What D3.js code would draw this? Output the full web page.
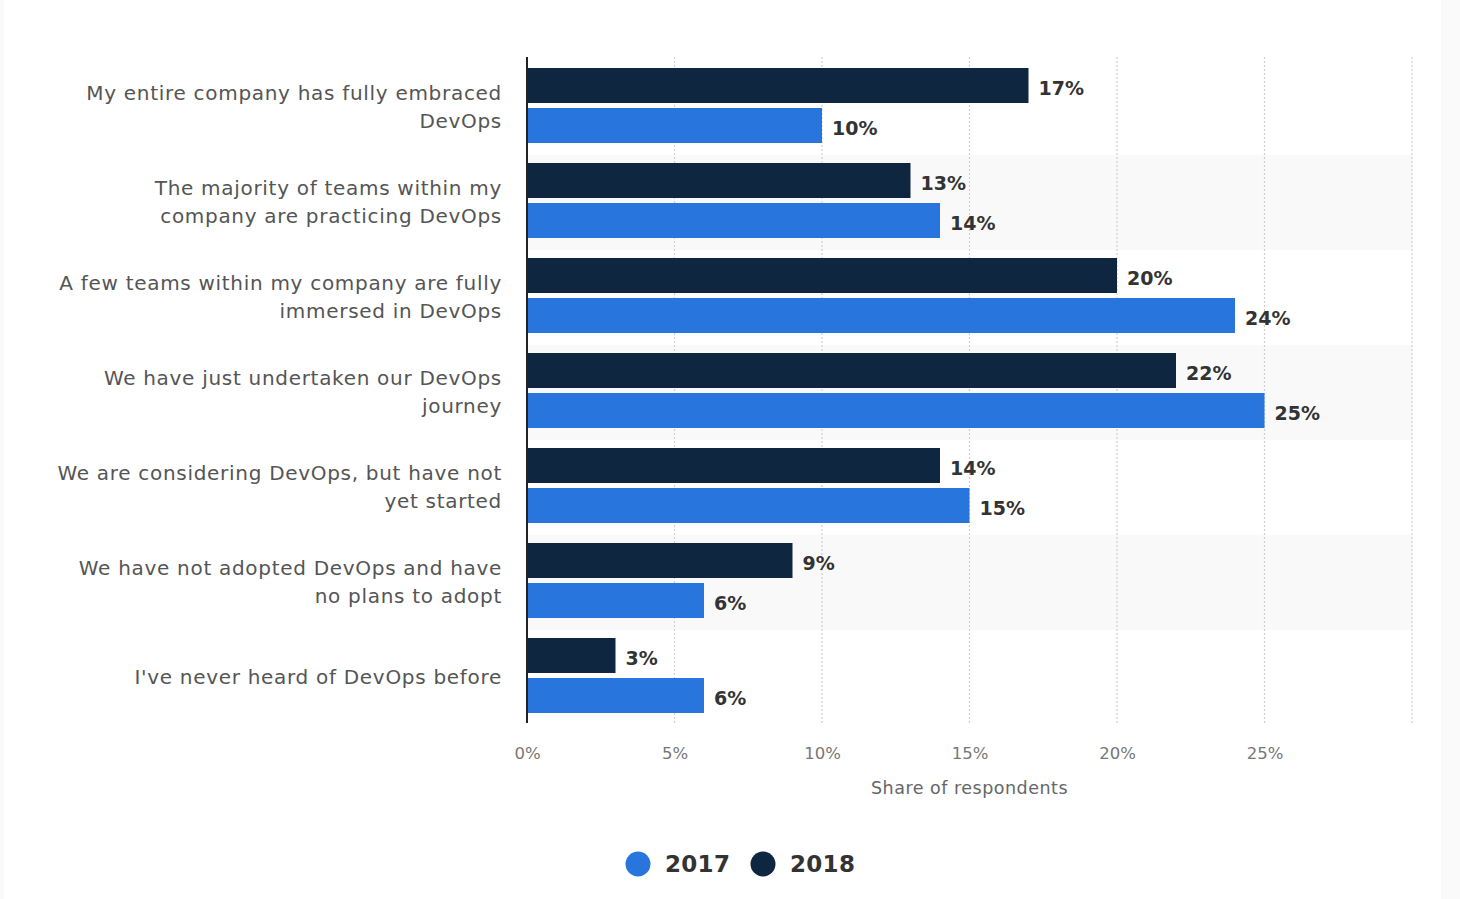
<!doctype html>
<html>
  <head>
    <script src="https://cdn.jsdelivr.net/npm/d3@7"></script>
    <style>
      body { margin: 0; background: #fff; }
      text { font-family: "DejaVu Sans", sans-serif; }
    </style>
  </head>
  <body>
    <svg id="chart" width="1460" height="899"></svg>

    <script>
      var categories = [
        ["My entire company has fully embraced", "DevOps"],
        ["The majority of teams within my", "company are practicing DevOps"],
        ["A few teams within my company are fully", "immersed in DevOps"],
        ["We have just undertaken our DevOps", "journey"],
        ["We are considering DevOps, but have not", "yet started"],
        ["We have not adopted DevOps and have", "no plans to adopt"],
        ["I've never heard of DevOps before"]
      ];
      var values2018 = [17, 13, 20, 22, 14, 9, 3];
      var values2017 = [10, 14, 24, 25, 15, 6, 6];
      var xTicks = [0, 5, 10, 15, 20, 25];
      var seriesNames = ["2017", "2018"];

      var colors = { "2017": "#2876dd", "2018": "#0f2640" };

      var svg = d3.select("#chart");

      // faint card edges
      svg.append("rect").attr("x", 1441).attr("y", 0).attr("width", 19).attr("height", 899).attr("fill", "#fafafa");
      svg.append("rect").attr("x", 0).attr("y", 0).attr("width", 4).attr("height", 899).attr("fill", "#fafafa");

      var x = d3.scaleLinear().domain([0, 30]).range([527, 1412]);
      var y = d3.scaleBand().domain(d3.range(categories.length)).range([58, 723]);

      // alternate band shading
      svg.append("g").selectAll("rect")
        .data(d3.range(categories.length).filter(i => i % 2 == 1))
        .enter().append("rect")
        .attr("x", x(0))
        .attr("y", d => y(d) + 2)
        .attr("width", x(30) - x(0))
        .attr("height", y.bandwidth())
        .attr("fill", "#f9f9f9");

      // gridlines
      svg.append("g").selectAll("line")
        .data(xTicks.concat([30]).slice(1))
        .enter().append("line")
        .attr("x1", d => x(d)).attr("x2", d => x(d))
        .attr("y1", 57).attr("y2", 724)
        .attr("stroke", "#cfcfcf")
        .attr("stroke-width", 1.2)
        .attr("stroke-dasharray", "2,2");

      // bars
      var series = [
        { name: "2018", values: values2018, offset: 10 },
        { name: "2017", values: values2017, offset: 50 }
      ];

      series.forEach(function(s) {
        var g = svg.append("g");
        g.selectAll("rect")
          .data(s.values)
          .enter().append("rect")
          .attr("x", x(0))
          .attr("y", (d, i) => y(i) + s.offset)
          .attr("width", d => x(d) - x(0))
          .attr("height", 35)
          .attr("fill", colors[s.name]);

        g.selectAll("text")
          .data(s.values)
          .enter().append("text")
          .attr("x", d => x(d) + 10)
          .attr("y", (d, i) => y(i) + s.offset + 20)
          .attr("dy", "0.36em")
          .attr("font-size", 19)
          .attr("font-weight", "bold")
          .attr("fill", "#333")
          .text(d => d + "%");
      });

      // y axis line
      svg.append("line")
        .attr("x1", x(0)).attr("x2", x(0))
        .attr("y1", 57).attr("y2", 723)
        .attr("stroke", "#222").attr("stroke-width", 2);

      // category labels
      var labels = svg.append("g").selectAll("text")
        .data(categories)
        .enter().append("text")
        .attr("text-anchor", "end")
        .attr("font-size", 20)
        .attr("fill", "#555")
        .attr("letter-spacing", 0.7)
        .attr("y", (d, i) => y(i) + y.bandwidth() / 2 + 1 - (d.length - 1) * 14);

      labels.selectAll("tspan")
        .data(d => d)
        .enter().append("tspan")
        .attr("x", 502)
        .attr("dy", (d, i) => i == 0 ? "0.35em" : "28px")
        .text(d => d);

      // x axis tick labels
      var xAxis = d3.axisBottom(x).tickValues(xTicks).tickFormat(d => d + "%").tickSize(0).tickPadding(0);
      var ax = svg.append("g").attr("transform", "translate(0,747)").call(xAxis);
      ax.select(".domain").remove();
      ax.selectAll("text")
        .attr("font-family", "DejaVu Sans, sans-serif")
        .attr("font-size", 16.5)
        .attr("fill", "#777");

      svg.append("text")
        .attr("x", (x(0) + x(30)) / 2)
        .attr("y", 794)
        .attr("text-anchor", "middle")
        .attr("font-size", 17.5)
        .attr("fill", "#666")
        .attr("letter-spacing", 0.5)
        .text("Share of respondents");

      // legend
      var legend = svg.append("g").selectAll("g")
        .data(seriesNames)
        .enter().append("g")
        .attr("transform", (d, i) => "translate(" + (638 + i * 125) + ",864)");

      legend.append("circle").attr("r", 12.5).attr("fill", d => colors[d]);
      legend.append("text")
        .attr("x", 27)
        .attr("dy", "0.36em")
        .attr("font-size", 23)
        .attr("font-weight", "bold")
        .attr("fill", "#333")
        .attr("letter-spacing", 0.3)
        .text(d => d);
    </script>
  </body>
</html>
